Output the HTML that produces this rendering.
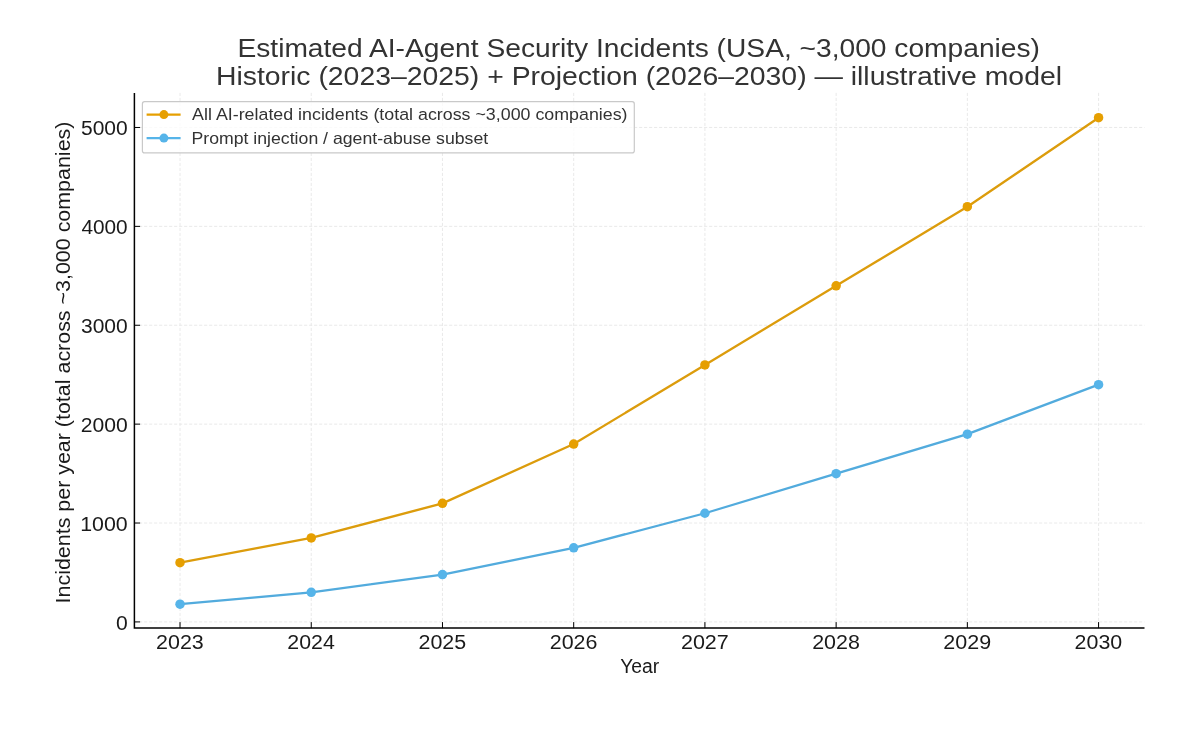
<!DOCTYPE html>
<html><head><meta charset="utf-8"><style>
html,body{margin:0;padding:0;background:#fff;width:1200px;height:731px;overflow:hidden}
svg{display:block;font-family:"Liberation Sans",sans-serif}
text{-webkit-font-smoothing:antialiased}
</style></head><body>
<svg width="1200" height="731" viewBox="0 0 1200 731">
<rect width="1200" height="731" fill="#fff"/>
<g opacity="0.999">
<path d="M180.03 92.90V628.10M311.25 92.90V628.10M442.47 92.90V628.10M573.69 92.90V628.10M704.91 92.90V628.10M836.13 92.90V628.10M967.35 92.90V628.10M1098.57 92.90V628.10M134.10 621.92H1144.50M134.10 523.03H1144.50M134.10 424.14H1144.50M134.10 325.25H1144.50M134.10 226.36H1144.50M134.10 127.47H1144.50" stroke="#e6e6e6" stroke-width="0.9" stroke-dasharray="3.1 1.9" fill="none"/>
<polyline points="180.03,562.69 311.25,537.97 442.47,503.35 573.69,444.02 704.91,364.91 836.13,285.79 967.35,206.68 1098.57,117.68" fill="none" stroke="#DC9C0C" stroke-width="2.3" stroke-linejoin="round" stroke-linecap="butt"/>
<circle cx="180.03" cy="562.69" r="4.75" fill="#E69F00"/>
<circle cx="311.25" cy="537.97" r="4.75" fill="#E69F00"/>
<circle cx="442.47" cy="503.35" r="4.75" fill="#E69F00"/>
<circle cx="573.69" cy="444.02" r="4.75" fill="#E69F00"/>
<circle cx="704.91" cy="364.91" r="4.75" fill="#E69F00"/>
<circle cx="836.13" cy="285.79" r="4.75" fill="#E69F00"/>
<circle cx="967.35" cy="206.68" r="4.75" fill="#E69F00"/>
<circle cx="1098.57" cy="117.68" r="4.75" fill="#E69F00"/>
<polyline points="180.03,604.22 311.25,592.36 442.47,574.56 573.69,547.85 704.91,513.24 836.13,473.69 967.35,434.13 1098.57,384.68" fill="none" stroke="#52ABDD" stroke-width="2.3" stroke-linejoin="round" stroke-linecap="butt"/>
<circle cx="180.03" cy="604.22" r="4.75" fill="#56B4E9"/>
<circle cx="311.25" cy="592.36" r="4.75" fill="#56B4E9"/>
<circle cx="442.47" cy="574.56" r="4.75" fill="#56B4E9"/>
<circle cx="573.69" cy="547.85" r="4.75" fill="#56B4E9"/>
<circle cx="704.91" cy="513.24" r="4.75" fill="#56B4E9"/>
<circle cx="836.13" cy="473.69" r="4.75" fill="#56B4E9"/>
<circle cx="967.35" cy="434.13" r="4.75" fill="#56B4E9"/>
<circle cx="1098.57" cy="384.68" r="4.75" fill="#56B4E9"/>
<path d="M134.40 92.90V628.85M133.65 628.10H1144.50" stroke="#000" stroke-width="1.5" fill="none"/>
<path d="M180.03 628.10V622.10M311.25 628.10V622.10M442.47 628.10V622.10M573.69 628.10V622.10M704.91 628.10V622.10M836.13 628.10V622.10M967.35 628.10V622.10M1098.57 628.10V622.10M134.10 621.92H140.10M134.10 523.03H140.10M134.10 424.14H140.10M134.10 325.25H140.10M134.10 226.36H140.10M134.10 127.47H140.10" stroke="#000" stroke-width="1.0" fill="none"/>
<text transform="translate(156.06,649.00) scale(1.0978,1)" font-size="19.54" fill="#1a1a1a">2023</text>
<text transform="translate(287.28,649.00) scale(1.0926,1)" font-size="19.54" fill="#1a1a1a">2024</text>
<text transform="translate(418.50,649.00) scale(1.0978,1)" font-size="19.54" fill="#1a1a1a">2025</text>
<text transform="translate(549.72,649.00) scale(1.0978,1)" font-size="19.54" fill="#1a1a1a">2026</text>
<text transform="translate(680.93,649.00) scale(1.1029,1)" font-size="19.54" fill="#1a1a1a">2027</text>
<text transform="translate(812.16,649.00) scale(1.0978,1)" font-size="19.54" fill="#1a1a1a">2028</text>
<text transform="translate(943.37,649.00) scale(1.1003,1)" font-size="19.54" fill="#1a1a1a">2029</text>
<text transform="translate(1074.60,649.00) scale(1.0952,1)" font-size="19.54" fill="#1a1a1a">2030</text>
<text transform="translate(116.02,629.87) scale(1.0809,1)" font-size="19.54" fill="#1a1a1a">0</text>
<text transform="translate(80.20,530.98) scale(1.0936,1)" font-size="19.54" fill="#1a1a1a">1000</text>
<text transform="translate(80.74,432.09) scale(1.0809,1)" font-size="19.54" fill="#1a1a1a">2000</text>
<text transform="translate(80.96,333.20) scale(1.0758,1)" font-size="19.54" fill="#1a1a1a">3000</text>
<text transform="translate(81.38,234.31) scale(1.0659,1)" font-size="19.54" fill="#1a1a1a">4000</text>
<text transform="translate(80.96,135.42) scale(1.0758,1)" font-size="19.54" fill="#1a1a1a">5000</text>
<text transform="translate(620.22,673.30) scale(0.9899,1)" font-size="19.54" fill="#1a1a1a">Year</text>
<text transform="translate(69.9,603.43) rotate(-90) scale(1.0975,1)" font-size="19.54" fill="#1a1a1a">Incidents per year (total across ~3,000 companies)</text>
<text transform="translate(237.44,56.80) scale(1.0794,1)" font-size="26.12" fill="#333">Estimated AI-Agent Security Incidents (USA, ~3,000 companies)</text>
<text transform="translate(215.93,84.60) scale(1.0865,1)" font-size="26.12" fill="#333">Historic (2023–2025) + Projection (2026–2030) — illustrative model</text>
<rect x="142.4" y="101.7" width="491.9" height="51.2" rx="2.2" ry="2.2" fill="#fff" fill-opacity="0.8" stroke="#c9c9c9" stroke-width="1.2"/>
<path d="M146.6 114.6H180.6" stroke="#E69F00" stroke-width="2.3"/>
<circle cx="163.9" cy="114.6" r="4.5" fill="#E69F00"/>
<path d="M146.6 138.1H180.6" stroke="#56B4E9" stroke-width="2.3"/>
<circle cx="163.9" cy="138.1" r="4.5" fill="#56B4E9"/>
<text transform="translate(192.10,120.30) scale(1.0937,1)" font-size="16.30" fill="#333">All AI-related incidents (total across ~3,000 companies)</text>
<text transform="translate(191.49,143.70) scale(1.0843,1)" font-size="16.30" fill="#333">Prompt injection / agent-abuse subset</text>
</g>
</svg>
</body></html>
